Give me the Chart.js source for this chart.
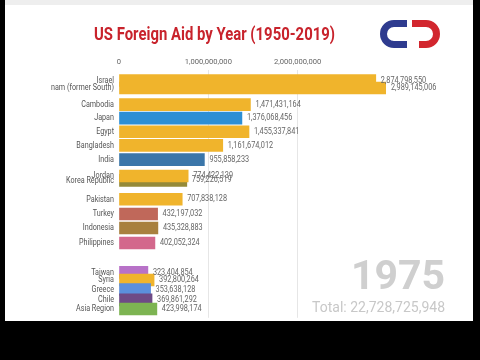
<!DOCTYPE html>
<html>
<head>
<meta charset="utf-8">
<script src="https://cdn.jsdelivr.net/npm/chart.js@4.4.1/dist/chart.umd.min.js"></script>
<style>
  html, body { margin: 0; padding: 0; background: #000; }
  #wrap { width: 480px; height: 360px; }
</style>
</head>
<body>
<div id="wrap"><canvas id="myChart" width="480" height="360"></canvas></div>
<script>
// frame of 1975, bars are mid-animation so positions are fractional ranks
const countries = ['Israel', 'Vietnam (former South)', 'Cambodia', 'Japan', 'Egypt', 'Bangladesh', 'India',
    'Korea Republic', 'Jordan', 'Pakistan', 'Turkey', 'Indonesia', 'Philippines',
    'Taiwan', 'Syria', 'Greece', 'Chile', 'Asia Region'];
const amounts = [2874798550, 2989145006, 1471431164, 1376068456, 1455337841, 1161674012, 955858233,
    759226519, 774422139, 707838128, 432197032, 435328883, 402052324,
    323404854, 392800264, 353638128, 369861292, 423998174];
const ranks = [1.24, 1.79, 3, 3.98, 4.97, 5.96, 7.0,
    8.5, 8.19, 9.88, 10.95, 11.97, 13.06,
    15.2, 15.75, 16.44, 17.2, 17.86];
const barColors = ['#f0b42c', '#f0b42c', '#f0b42c', '#2d8fd5', '#f0b42c', '#f0b42c', '#3b76a9',
    '#958a38', '#f0b42c', '#f0b42c', '#c0685a', '#a8803e', '#d3688c',
    '#b872c8', '#f0b42c', '#5b8fdc', '#6e4a86', '#7db452'];
const xTicks = [0, 1000000000, 2000000000];
const year = '1975';
const total = 22728725948;

const fmt = v => v.toLocaleString('en-US');
const SQUEEZE = 0.8;   // original font is a condensed face

function fitText(c, txt, x, y, width) {
    const w = c.measureText(txt).width;
    c.save();
    c.translate(x, y);
    c.scale(width / w, 1);
    c.fillText(txt, 0, 0);
    c.restore();
}

// squeeze the y tick labels horizontally around their right edge
const squeezePlugin = {
    id: 'squeeze',
    afterLayout(chart) {
        const s = chart.scales.y;
        if (s._squeezed) return;
        const orig = s.drawLabels;
        s.drawLabels = function (area) {
            const c = this.ctx;
            const edge = this.right - this.options.ticks.padding;
            c.save();
            c.translate(edge, 0);
            c.scale(SQUEEZE, 1);
            c.translate(-edge, 0);
            orig.call(this, area);
            c.restore();
        };
        s._squeezed = true;
    }
};

const framePlugin = {
    id: 'frame',
    beforeDraw(chart) {
        const c = chart.ctx;
        c.save();
        c.fillStyle = '#000';
        c.fillRect(0, 0, 480, 360);
        c.fillStyle = '#eeeeee';
        c.fillRect(5, 0, 468, 5);
        c.fillStyle = '#fff';
        c.fillRect(5, 5, 468, 316);
        c.restore();
    },
    afterDraw(chart) {
        const c = chart.ctx;
        c.save();
        // long label is cut off on the left in the original
        c.fillStyle = '#fff';
        c.fillRect(5, 66, 46, 250);

        // value labels
        c.font = '8.8px Roboto';
        c.fillStyle = '#666';
        c.textAlign = 'left';
        c.textBaseline = 'middle';
        chart.getDatasetMeta(0).data.forEach((bar, i) => {
            const t = fmt(amounts[i]);
            fitText(c, t, bar.x + 5, bar.y, c.measureText(t).width * 0.83);
        });

        // title
        c.font = 'bold 17.5px Roboto';
        c.fillStyle = '#c8232c';
        c.textAlign = 'center';
        fitText(c, 'US Foreign Aid by Year (1950-2019)', 214.5, 36, 241);

        // year + total
        c.textAlign = 'right';
        c.textBaseline = 'alphabetic';
        c.fillStyle = '#cfcfcf';
        c.font = 'bold 41px Roboto';
        c.fillText(year, 445, 289);
        c.fillStyle = '#c8c8c8';
        c.font = '14px Roboto';
        c.fillText('Total: ' + fmt(total), 445, 312);

        // logo
        c.lineWidth = 7;
        c.strokeStyle = '#2e3b8f';
        c.beginPath();
        c.moveTo(407, 23.5);
        c.lineTo(394, 23.5);
        c.arc(394, 34, 10.5, -Math.PI / 2, Math.PI / 2, true);
        c.lineTo(407, 44.5);
        c.stroke();
        c.strokeStyle = '#d2262e';
        c.beginPath();
        c.moveTo(412, 23.5);
        c.lineTo(426, 23.5);
        c.arc(426, 34, 10.5, -Math.PI / 2, Math.PI / 2, false);
        c.lineTo(419, 44.5);
        c.stroke();

        // player button peeking out
        c.fillStyle = '#000';
        c.beginPath();
        c.arc(67, 333, 11, 0, Math.PI * 2);
        c.fill();
        c.restore();
    }
};

const ctx = document.getElementById('myChart');
const myChart = new Chart(ctx, {
    type: 'bar',
    data: {
        datasets: [{
            data: amounts.map((a, i) => ({ x: a, y: ranks[i] })),
            backgroundColor: barColors,
            barThickness: 12,
            borderWidth: 0
        }]
    },
    options: {
        indexAxis: 'y',
        responsive: false,
        animation: false,
        devicePixelRatio: 1,
        layout: { padding: { top: 50, left: 5, right: 94, bottom: 42.2 } },
        plugins: {
            legend: { display: false },
            title: { display: false },
            tooltip: { enabled: false }
        },
        scales: {
            x: {
                type: 'linear',
                position: 'top',
                min: 0,
                max: Math.max(...amounts),
                afterBuildTicks: s => { s.ticks = xTicks.map(v => ({ value: v })); },
                afterFit: s => { s.height = 20.3; },
                border: { display: false },
                grid: {
                    drawTicks: false,
                    color: c => c.tick && c.tick.value === 0 ? 'rgba(0,0,0,0)' : '#e6e6e6'
                },
                ticks: {
                    padding: 4,
                    color: '#666',
                    font: { family: 'Roboto', size: 7.6 },
                    callback: v => fmt(v)
                }
            },
            y: {
                type: 'linear',
                reverse: true,
                offset: false,
                min: 0.5,
                max: 18.5,
                afterBuildTicks: s => { s.ticks = ranks.map(v => ({ value: v })); },
                afterFit: s => { s.width = 114; },
                border: { display: false },
                grid: { display: false, drawTicks: false, offset: false },
                ticks: {
                    autoSkip: false,
                    padding: 5,
                    color: '#555',
                    font: { family: 'Roboto', size: 9 },
                    callback: (v, i) => countries[i]
                }
            }
        }
    },
    plugins: [squeezePlugin, framePlugin]
});
</script>
</body>
</html>
